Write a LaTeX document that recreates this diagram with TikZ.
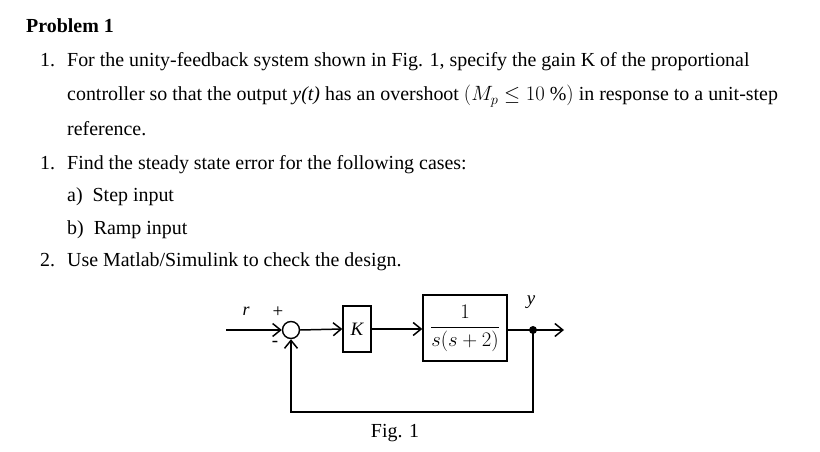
\documentclass[tikz,border=0pt]{standalone}
\usepackage{fontspec}
\setmainfont{Liberation Serif}
\usetikzlibrary{arrows.meta}
\begin{document}
\begin{tikzpicture}[x=1bp,y=-1bp,
  txt/.style={anchor=base west,inner sep=0,font=\fontsize{20}{22}\selectfont},
  blk/.style={draw,line width=1.4pt,inner sep=0},
  sig/.style={line width=1.5pt,-{Straight Barb[length=8pt,width=13pt,line width=1.5pt]}},
  wire/.style={line width=1.5pt}]
\useasboundingbox (0,0) rectangle (820,452);
\node[txt,font=\fontsize{20}{22}\selectfont\bfseries] (t0) at (26,33) {Problem 1};
\node[txt] (n1) at (40,67) {1.};
\node[txt] (l1) at (67,67) {For the unity-feedback system shown in Fig. 1, specify the gain K of the proportional};
\node[txt] (l2) at (67,101) {controller so that the output \textit{y(t)} has an overshoot $\bigl(M_p\le 10\ \%\bigr)$ in response to a unit-step};
\node[txt] (l3) at (67,136) {reference.};
\node[txt] (n2) at (40,170) {1.};
\node[txt] (l4) at (67,170) {Find the steady state error for the following cases:};
\node[txt] (l5) at (67,202) {a)\ \ Step input};
\node[txt] (l6) at (67,235) {b)\ \ Ramp input};
\node[txt] (n3) at (40,267) {2.};
\node[txt] (l7) at (67,267) {Use Matlab/Simulink to check the design.};
% block diagram
\coordinate (in) at (226,330);
\node[draw,circle,line width=1.4pt,minimum size=17bp,inner sep=0] (sum) at (291,330) {};
\node[blk,minimum width=28bp,minimum height=46bp] (K) at (357,329) {\fontsize{19}{20}\selectfont\itshape K};
\node[blk,minimum width=84bp,minimum height=66bp] (G) at (465,328) {\fontsize{20}{22}\selectfont$\displaystyle\frac{1}{s(s+2)}$};
\coordinate (dot) at (533,330);
\coordinate (out) at (564,330);
\coordinate (fb) at (533,412);
\coordinate (fb2) at (291,412);
\draw[sig] (in) -- (sum.west);
\draw[sig] (sum.east) -- (K.west);
\draw[sig] (K.east) -- (G.west|-K.east);
\draw[wire] (G.east|-dot) -- (dot);
\draw[sig] (dot) -- (out);
\fill (dot) circle (4bp);
\draw[sig] (dot) -- (fb) -- (fb2) -- (sum.south);
\node[font=\itshape\fontsize{18}{20}\selectfont] (r) at (246,311) {r};
\node[font=\fontsize{19}{20}\selectfont] (plus) at (278,312) {+};
\node[font=\fontsize{19}{20}\selectfont] (minus) at (275,344) {-};
\node[font=\itshape\fontsize{19}{20}\selectfont] (y) at (531,302) {y};
\node[font=\fontsize{20}{22}\selectfont] (fig) at (395,433) {Fig. 1};
\end{tikzpicture}
\end{document}
